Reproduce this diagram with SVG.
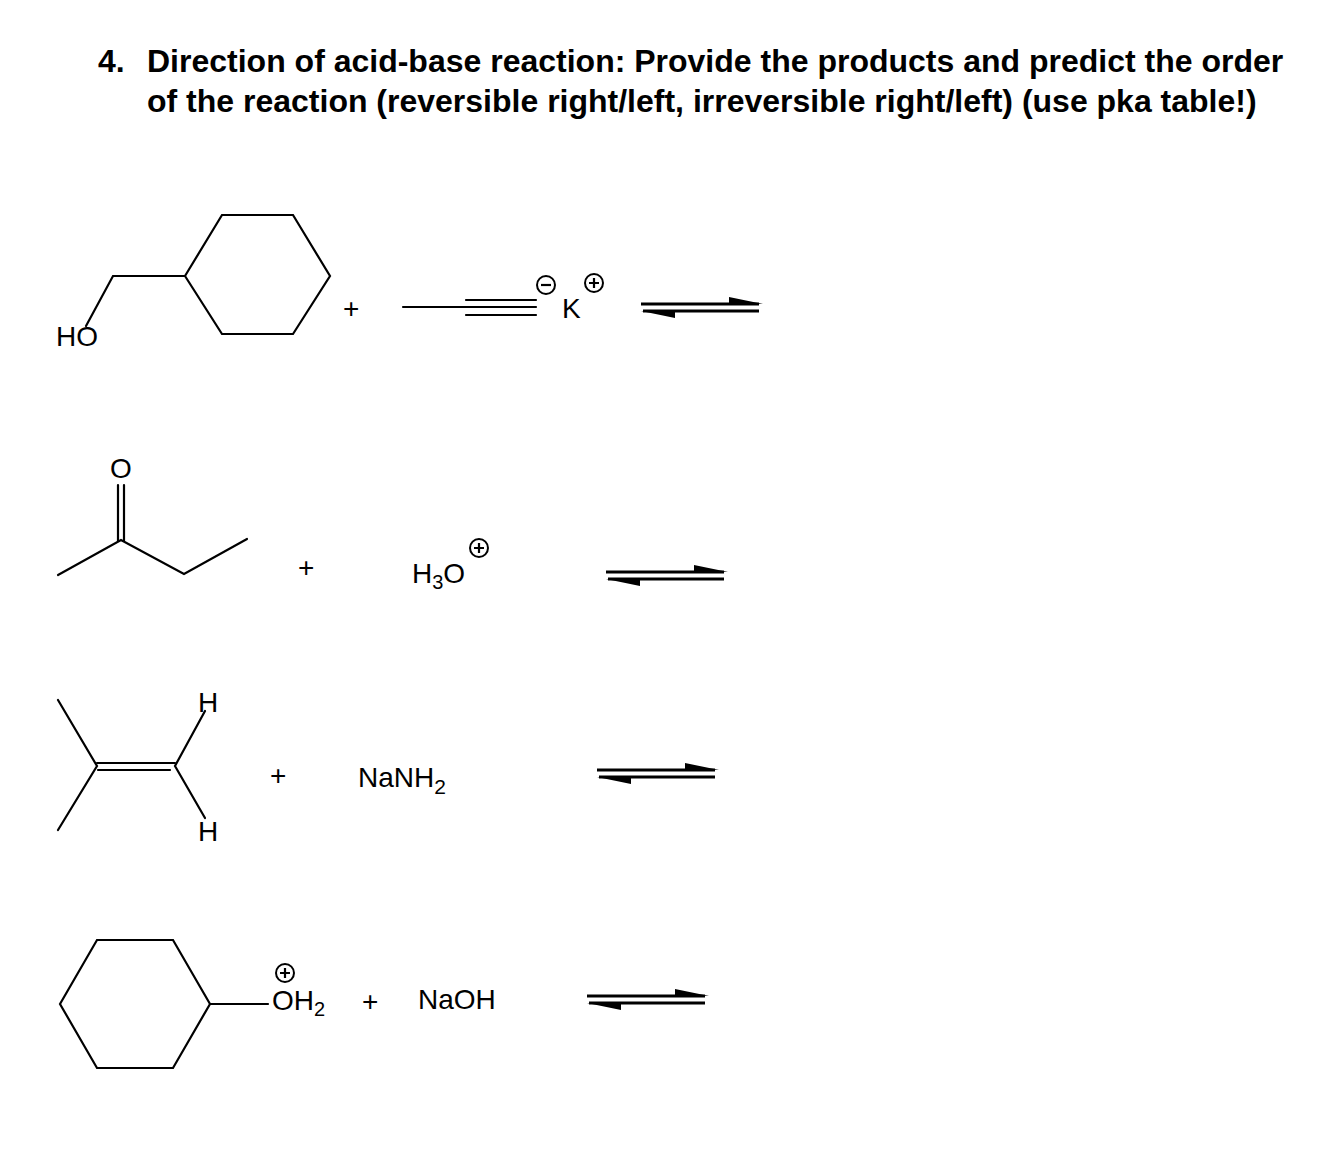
<svg xmlns="http://www.w3.org/2000/svg" width="1338" height="1162" viewBox="0 0 1338 1162">
<style>
.b{fill:none;stroke:#000;stroke-width:2.2;stroke-linecap:round}
.t{font-family:"Liberation Sans",Arial,sans-serif;font-size:28px;fill:#000}
.h{font-family:"Liberation Sans",Arial,sans-serif;font-size:32px;font-weight:bold;fill:#000}
.c{fill:none;stroke:#000;stroke-width:2}
.a{fill:none;stroke:#000;stroke-width:2.8}
</style>
<defs>
<g id="eq">
<line class="a" x1="0" y1="0" x2="118" y2="0"/>
<path d="M88,-7 L122,0 L88,0Z"/>
<line class="a" x1="2" y1="7" x2="118" y2="7"/>
<path d="M0,7 L34,7 L34,14Z"/>
</g>
<g id="pc"><circle class="c" r="9"/><path d="M-5,0H5M0,-5V5" stroke="#000" stroke-width="2.2"/></g>
</defs>
<rect width="1338" height="1162" fill="#fff"/>
<text class="h" x="98" y="72">4.</text>
<text class="h" x="147" y="72">Direction of acid-base reaction: Provide the products and predict the order</text>
<text class="h" x="147" y="112">of the reaction (reversible right/left, irreversible right/left) (use pka table!)</text>
<g id="row1">
<text class="t" x="56" y="346" font-size="20">HO</text>
<path class="b" d="M86,326 L113,276 L185,276 L222,215 L293,215 L330,276 L293,334 L222,334 L185,276"/>
<text class="t" x="343" y="318" font-size="24">+</text>
<line class="b" x1="403" y1="307" x2="467" y2="307"/>
<path class="b" d="M466,300H536M466,307H536M466,315H536"/>
<circle class="c" cx="546" cy="285" r="9"/><path d="M541,285H551" stroke="#000" stroke-width="2.2"/>
<text class="t" x="562" y="318" font-size="26">K</text>
<use href="#pc" x="594" y="283"/>
<use href="#eq" x="641" y="304"/>
</g>
<g id="row2">
<text class="t" x="110" y="478" font-size="22">O</text>
<path class="b" d="M118,485V541M124,485V541"/>
<path class="b" d="M58,575 L121,540 L184,574 L247,539"/>
<text class="t" x="298" y="577">+</text>
<text class="t" x="412" y="583">H<tspan font-size="20" dy="6">3</tspan><tspan dy="-6">O</tspan></text>
<use href="#pc" x="479" y="548"/>
<use href="#eq" x="606" y="572"/>
</g>
<g id="row3">
<path class="b" d="M97,763H175M98,770H170"/>
<path class="b" d="M58,700L97,766L58,830M205,711L175,766L205,818"/>
<text class="t" x="198" y="712" font-size="21">H</text>
<text class="t" x="198" y="841" font-size="21">H</text>
<text class="t" x="270" y="785">+</text>
<text class="t" x="358" y="787" font-size="29">NaNH<tspan font-size="21" dy="7">2</tspan></text>
<use href="#eq" x="597" y="770"/>
</g>
<g id="row4">
<path class="b" d="M60,1004L97,940L173,940L210,1004L173,1068L97,1068Z M210,1004H268"/>
<text class="t" x="272" y="1010" font-size="26">OH<tspan font-size="20" dy="6">2</tspan></text>
<use href="#pc" x="285" y="973"/>
<text class="t" x="362" y="1011">+</text>
<text class="t" x="418" y="1009" font-size="29">NaOH</text>
<use href="#eq" x="587" y="996"/>
</g>
</svg>
